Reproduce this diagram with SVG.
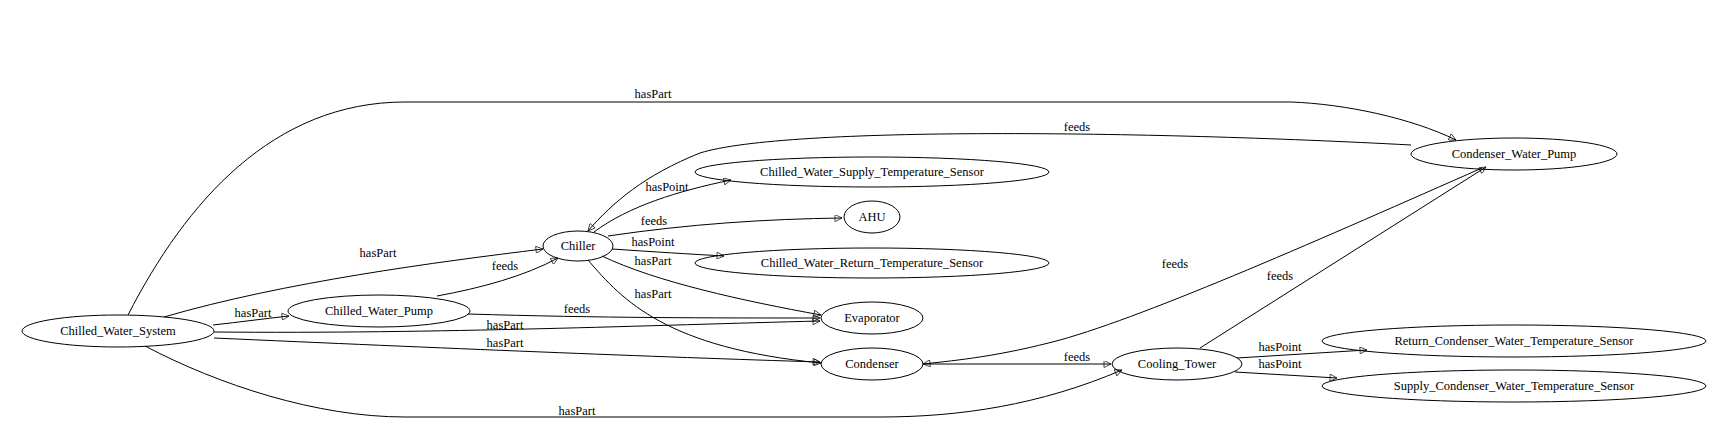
<svg xmlns="http://www.w3.org/2000/svg" width="1715" height="437" viewBox="0 0 1715 437">
<style>
text{font-family:"Liberation Serif","DejaVu Serif",serif;font-size:12.5px;text-anchor:middle;fill:#000}
ellipse{fill:none;stroke:#000;stroke-width:1}
path{fill:none;stroke:#000;stroke-width:1}
</style>
<defs><marker id="a" viewBox="0 0 10 10" refX="10" refY="5" markerWidth="10" markerHeight="7" markerUnits="userSpaceOnUse" orient="auto"><path d="M0,0L10,5L0,10z" fill="#000"/></marker></defs>
<rect width="1715" height="437" fill="#fff"/>
<g id="edges">
<path marker-end="url(#a)" d="M128,315C186,202 273,102 405,102L1291,102C1345,104 1411,118 1456,140"/><text x="653" y="98">hasPart</text>
<path marker-end="url(#a)" d="M1411,145C1149,131 787,126 700,153C645,175 613,202 588,231"/><text x="1077" y="131">feeds</text>
<path marker-end="url(#a)" d="M594,232C629,206 678,191 731,180"/><text x="667" y="191">hasPoint</text>
<path marker-end="url(#a)" d="M608,236C689,224 766,219 842,218"/><text x="654" y="225">feeds</text>
<path marker-end="url(#a)" d="M612,249C656,252 689,254 724,256"/><text x="653" y="246">hasPoint</text>
<path marker-end="url(#a)" d="M602,256C656,282 744,301 821,315"/><text x="653" y="265">hasPart</text>
<path marker-end="url(#a)" d="M588,260C623,301 667,348 821,363"/><text x="653" y="298">hasPart</text>
<path marker-end="url(#a)" d="M164,317C284,282 437,262 543,249"/><text x="378" y="257">hasPart</text>
<path marker-end="url(#a)" d="M213,325C240,322 262,319 289,316"/><text x="253" y="317">hasPart</text>
<path marker-end="url(#a)" d="M437,296C481,288 525,276 558,258"/><text x="505" y="270">feeds</text>
<path marker-end="url(#a)" d="M468,314C600,318 711,318 820,318"/><text x="577" y="313">feeds</text>
<path marker-end="url(#a)" d="M214,332C437,334 656,325 820,321"/><text x="505" y="329">hasPart</text>
<path marker-end="url(#a)" d="M214,338C437,348 656,357 820,362"/><text x="505" y="347">hasPart</text>
<path marker-end="url(#a)" d="M145,346C219,385 317,417 405,417L880,417C960,417 1040,405 1122,370"/><text x="577" y="415">hasPart</text>
<path marker-end="url(#a)" d="M923,364L1111,364"/><text x="1077" y="361">feeds</text>
<path marker-end="url(#a)" d="M1200,348L1486,167"/><text x="1280" y="280">feeds</text>
<path marker-end="url(#a)" d="M1482,168C1330,235 1150,315 1060,340C1000,356 960,360 923,364"/><text x="1175" y="268">feeds</text>
<path marker-end="url(#a)" d="M1237,358L1367,350"/><text x="1280" y="351">hasPoint</text>
<path marker-end="url(#a)" d="M1235,372L1337,378"/><text x="1280" y="368">hasPoint</text>
</g>
<g id="Chilled_Water_System"><ellipse cx="118" cy="331" rx="96" ry="16"/><text x="118" y="335">Chilled_Water_System</text></g>
<g id="Chilled_Water_Pump"><ellipse cx="379" cy="311" rx="91" ry="16"/><text x="379" y="315">Chilled_Water_Pump</text></g>
<g id="Chiller"><ellipse cx="578" cy="246" rx="35" ry="15"/><text x="578" y="250">Chiller</text></g>
<g id="Chilled_Water_Supply_Temperature_Sensor"><ellipse cx="872" cy="172" rx="177" ry="15"/><text x="872" y="176">Chilled_Water_Supply_Temperature_Sensor</text></g>
<g id="AHU"><ellipse cx="872" cy="217" rx="28" ry="16"/><text x="872" y="221">AHU</text></g>
<g id="Chilled_Water_Return_Temperature_Sensor"><ellipse cx="872" cy="263" rx="177" ry="15"/><text x="872" y="267">Chilled_Water_Return_Temperature_Sensor</text></g>
<g id="Evaporator"><ellipse cx="872" cy="318" rx="51" ry="16"/><text x="872" y="322">Evaporator</text></g>
<g id="Condenser"><ellipse cx="872" cy="364" rx="51" ry="16"/><text x="872" y="368">Condenser</text></g>
<g id="Cooling_Tower"><ellipse cx="1177" cy="364" rx="65" ry="16"/><text x="1177" y="368">Cooling_Tower</text></g>
<g id="Condenser_Water_Pump"><ellipse cx="1514" cy="154" rx="103" ry="16"/><text x="1514" y="158">Condenser_Water_Pump</text></g>
<g id="Return_Condenser_Water_Temperature_Sensor"><ellipse cx="1514" cy="341" rx="192" ry="16"/><text x="1514" y="345">Return_Condenser_Water_Temperature_Sensor</text></g>
<g id="Supply_Condenser_Water_Temperature_Sensor"><ellipse cx="1514" cy="386" rx="192" ry="16"/><text x="1514" y="390">Supply_Condenser_Water_Temperature_Sensor</text></g>
</svg>
